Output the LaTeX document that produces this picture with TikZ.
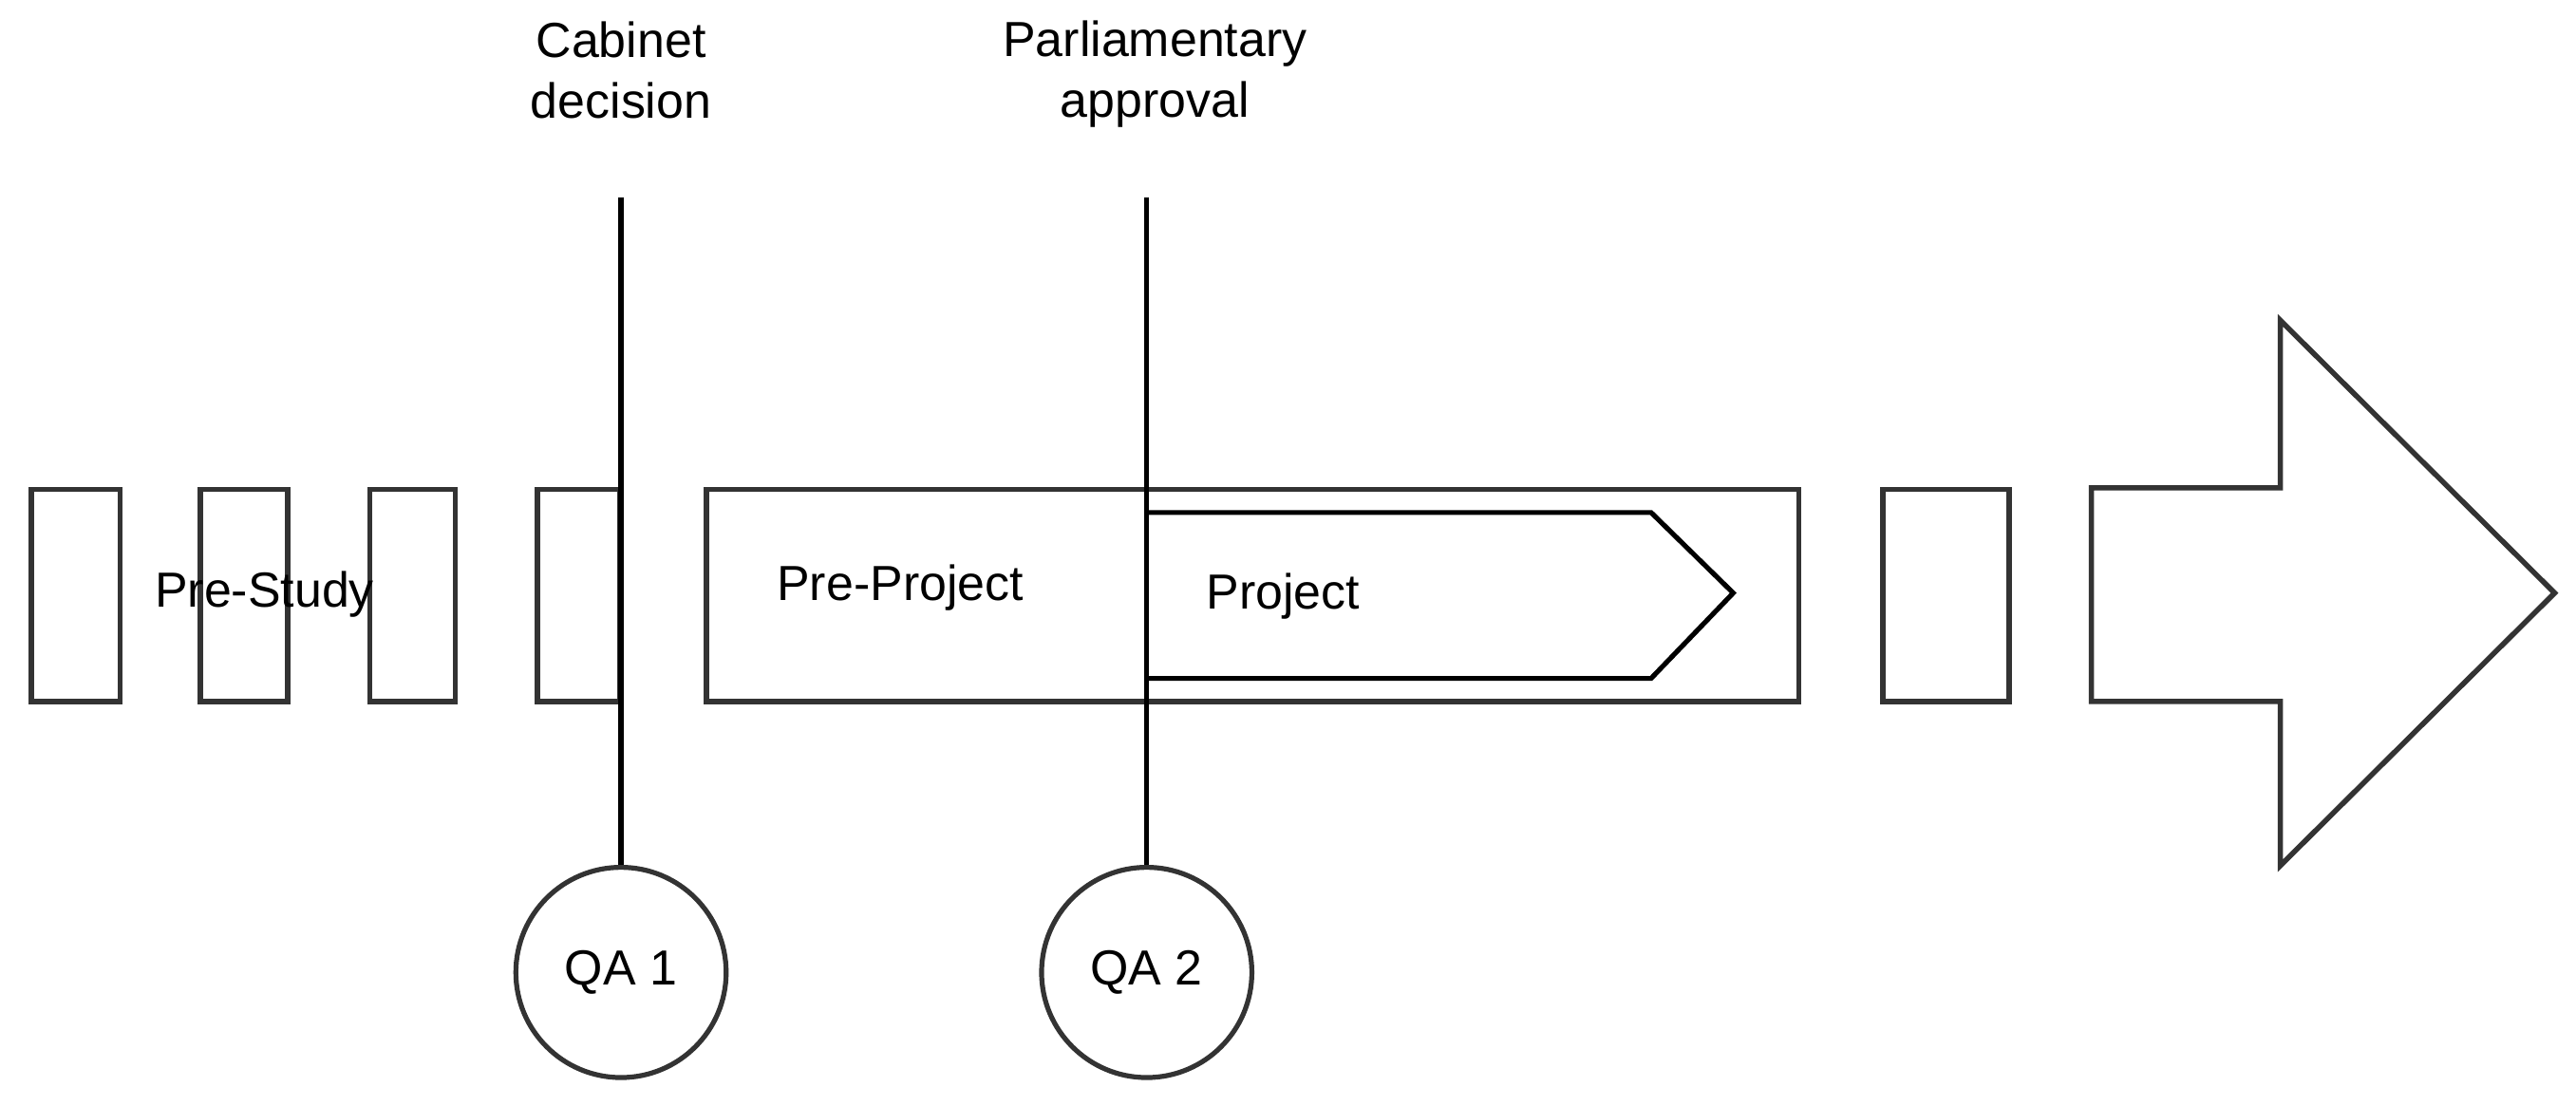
\documentclass[tikz,border=0pt]{standalone}
\usepackage{fontspec}
\setmainfont{Liberation Sans}
\begin{document}
\begin{tikzpicture}[x=1pt,y=-1pt,
  box/.style={draw=black!80,line width=3.2pt},
  vl/.style={draw=black,line width=3pt},
  lbl/.style={font=\fontsize{30}{37}\selectfont,align=center,inner sep=0pt}]
\useasboundingbox (0,0) rectangle (1568,673);
\fill[white] (0,0) rectangle (1568,673);
\draw[box] (19,298) rectangle (73,427);
\draw[box] (122,298) rectangle (175,427);
\draw[box] (225,298) rectangle (277,427);
\draw[box] (327,298) rectangle (377,427);
\draw[box] (430,298) rectangle (1095,427);
\draw[box] (1146,298) rectangle (1223,427);
\draw[box,line join=miter] (1273,297) -- (1388,297) -- (1388,195) -- (1555,361) -- (1388,527) -- (1388,427) -- (1273,427) -- cycle;
\draw[vl] (698,312) -- (1005,312) -- (1055,361) -- (1005,413) -- (698,413);
\node[lbl] (ps) at (161,362) {Pre-Study};
\node[lbl] (pp) at (548,358) {Pre-Project};
\node[lbl] (pj) at (781,363) {Project};
\node[draw=black!80,line width=3pt,circle,minimum size=128pt,lbl] (qa1) at (378,592) {QA 1};
\node[draw=black!80,line width=3pt,circle,minimum size=128pt,lbl] (qa2) at (698,592) {QA 2};
\coordinate (t1) at (378,120);
\coordinate (t2) at (698,120);
\draw[vl] (t1) -- (qa1.north);
\draw[vl] (t2) -- (qa2.north);
\node[lbl] (cd) at (378,43) {Cabinet\\decision};
\node[lbl] (pa) at (703,45) {Parliamentary\\approval};
\end{tikzpicture}
\end{document}
